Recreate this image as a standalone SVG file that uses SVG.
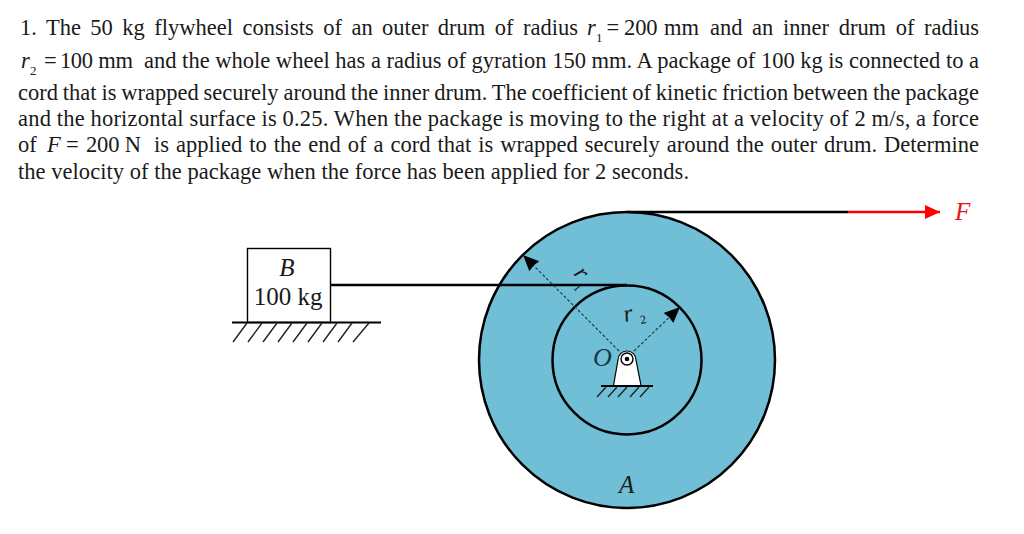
<svg xmlns="http://www.w3.org/2000/svg" width="1024" height="534" viewBox="0 0 1024 534">
<style>
text{font-family:"Liberation Serif","Times New Roman",serif;fill:#1a1a1a}
.t{font-size:22.5px}
.i{font-style:italic}
.s{font-size:13px}
.h{stroke:#222;stroke-width:1.4;fill:none}
.c{stroke:#000;stroke-width:2.5;fill:none}
.d{stroke:#123a4c;stroke-width:1.1;stroke-dasharray:3 2;fill:none}
</style>
<defs>
<marker id="dk" markerUnits="userSpaceOnUse" markerWidth="18" markerHeight="16" refX="16" refY="8" orient="auto"><path d="M0 1L16 8L0 15L1 8Z" fill="#000"/></marker>
<marker id="rd" markerUnits="userSpaceOnUse" markerWidth="16" markerHeight="16" refX="15" refY="8" orient="auto"><path d="M0 1L15 8L0 15Z" fill="#f00"/></marker>
</defs>
<rect width="1024" height="534" fill="#fff"/>
<g id="problem-text">
<text class="t" x="20" y="35" textLength="558" word-spacing="3.8">1. The 50 kg flywheel consists of an outer drum of radius</text>
<text class="t i" x="587" y="35">r</text><text class="s" x="596" y="42">1</text>
<text class="t" x="606.5" y="35">=</text>
<text class="t" x="624" y="35" textLength="75" word-spacing="1">200 mm</text>
<text class="t" x="710" y="35" textLength="269" word-spacing="4">and an inner drum of radius</text>
<text class="t i" x="21" y="68">r</text><text class="s" x="30" y="75">2</text>
<text class="t" x="44" y="68">=</text>
<text class="t" x="60" y="68" textLength="73" word-spacing="0.5">100 mm</text>
<text class="t" x="144" y="68" textLength="835" word-spacing="-0.1">and the whole wheel has a radius of gyration 150 mm. A package of 100 kg is connected to a</text>
<text class="t" x="18" y="100" textLength="961" word-spacing="-0.8">cord that is wrapped securely around the inner drum. The coefficient of kinetic friction between the package</text>
<text class="t" x="18" y="126" textLength="961" word-spacing="-0.2">and the horizontal surface is 0.25. When the package is moving to the right at a velocity of 2 m/s, a force</text>
<text class="t" x="18" y="152">of</text>
<text class="t i" x="47" y="152">F</text>
<text class="t" x="66" y="152">=</text>
<text class="t" x="86" y="152" textLength="55" word-spacing="0">200 N</text>
<text class="t" x="154" y="152" textLength="825" word-spacing="1.4">is applied to the end of a cord that is wrapped securely around the outer drum. Determine</text>
<text class="t" x="18" y="179" textLength="671">the velocity of the package when the force has been applied for 2 seconds.</text>
</g>
<g id="flywheel-A">
<circle cx="627" cy="360" r="148" fill="#70bfd6" stroke="#000" stroke-width="2.5"/>
<text class="i" x="619" y="493" font-size="25">A</text>
</g>
<g id="inner-drum">
<circle cx="627" cy="360" r="74.5" fill="none" stroke="#000" stroke-width="2.5"/>
</g>
<g id="package-B">
<rect x="247.5" y="248.5" width="83" height="74" fill="#fff" stroke="#000" stroke-width="1.4"/>
<text class="i" x="287" y="276" font-size="25" text-anchor="middle">B</text>
<text x="288" y="305" font-size="25" text-anchor="middle">100 kg</text>
</g>
<g id="ground">
<path d="M232 322.5H381" stroke="#000" stroke-width="2.2" fill="none"/>
<path class="h" d="M233 342L247 323M248 342L262 323M263 342L277 323M278 342L292 323M293 342L307 323M308 342L322 323M323 342L337 323M338 342L352 323M353 342L369 323"/>
</g>
<g id="connectors">
<path class="c" d="M331 285H627"/>
<path class="c" d="M627 212H848"/>
<path d="M848 212H940" stroke="#f00" stroke-width="2.5" fill="none" marker-end="url(#rd)"/>
<path class="d" d="M619 351L523 255" marker-end="url(#dk)"/>
<path class="d" d="M634 351L680 307" marker-end="url(#dk)"/>
</g>
<g id="force-label"><text class="i" x="955" y="220" font-size="25" style="fill:#e8141c">F</text></g>
<g id="radius-labels">
<text class="i" font-size="24" transform="translate(573 274) rotate(50)">r</text>
<text font-size="11" transform="translate(573 288) rotate(50)">1</text>
<text class="i" font-size="24" transform="translate(625 322) rotate(-12)">r</text>
<text font-size="12" transform="translate(641 324) rotate(-12)">2</text>
</g>
<g id="pivot-O">
<text class="i" x="593" y="366" font-size="26" style="fill:#123a4c">O</text>
<path d="M613.5 385.5L618 360A9 9 0 0 1 636 360L641 385.5Z" fill="#fff" stroke="#000" stroke-width="1.2"/>
<circle cx="627" cy="359" r="6" fill="#fff" stroke="#000" stroke-width="1.4"/>
<circle cx="627" cy="359" r="2.3" fill="#000"/>
<path d="M601 386H653" stroke="#000" stroke-width="2.2" fill="none"/>
<path class="h" d="M597 397L606 387M608 397L617 387M618 397L627 387M630 397L639 387M640 397L649 387"/>
</g>
</svg>
